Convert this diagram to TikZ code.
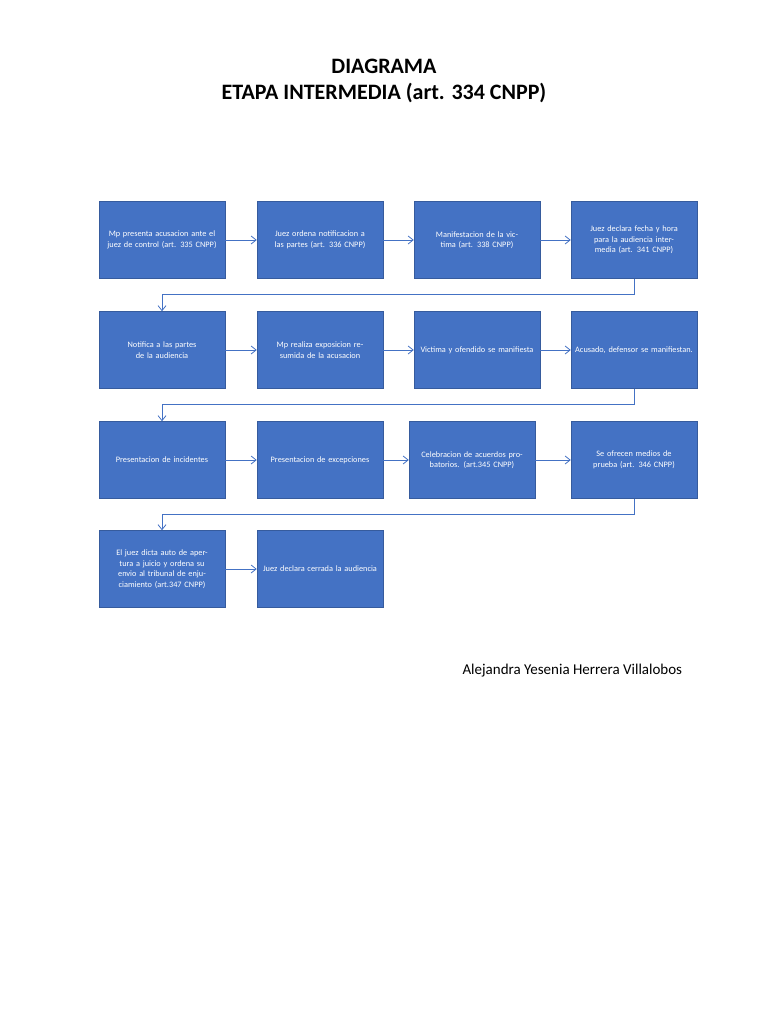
\documentclass[tikz,border=0pt]{standalone}
\usepackage{fontspec}
\setmainfont{Carlito}
\usetikzlibrary{arrows.meta}
\definecolor{bx}{HTML}{4472C4}
\begin{document}
\begin{tikzpicture}[x=1pt,y=-1pt,
  box/.style={fill=bx,draw=bx!80!black,line width=0.5pt,minimum width=126pt,minimum height=77pt,text width=120pt,align=center,text=white,font=\fontsize{8.3}{10.5}\selectfont,inner sep=2pt},
  conn/.style={draw=bx,line width=0.8pt,-{Straight Barb[length=5pt,width=8pt]}}]
\useasboundingbox (0,0) rectangle (768,1024);
\node[font=\fontsize{22}{26}\selectfont\bfseries,align=center] (title) at (384,81) {DIAGRAMA\\ETAPA INTERMEDIA (art. 334 CNPP)};
\node[font=\fontsize{15}{18}\selectfont,anchor=west] (author) at (459,671) {Alejandra Yesenia Herrera Villalobos};
\node[box] (a1) at (162,240) {Mp presenta acusacion ante el juez de control (art. 335 CNPP)};
\node[box] (a2) at (320,240) {Juez ordena notificacion a las partes (art. 336 CNPP)};
\node[box] (a3) at (477,240) {Manifestacion de la victima (art. 338 CNPP)};
\node[box] (a4) at (634,240) {Juez declara fecha y hora para la audiencia intermedia (art. 341 CNPP)};
\node[box] (b1) at (162,350) {Notifica a las partes de la audiencia};
\node[box] (b2) at (320,350) {Mp realiza exposicion resumida de la acusacion};
\node[box] (b3) at (477,350) {Victima y ofendido se manifiesta};
\node[box] (b4) at (634,350) {Acusado, defensor se manifiestan.};
\node[box] (c1) at (162,460) {Presentacion de incidentes};
\node[box] (c2) at (320,460) {Presentacion de excepciones};
\node[box] (c3) at (472,460) {Celebracion de acuerdos probatorios. (art.345 CNPP)};
\node[box] (c4) at (634,460) {Se ofrecen medios de prueba (art. 346 CNPP)};
\node[box] (d1) at (162,569) {El juez dicta auto de apertura a juicio y ordena su envio al tribunal de enjuciamiento (art.347 CNPP)};
\node[box] (d2) at (320,569) {Juez declara cerrada la audiencia};
\foreach \r in {a,b,c}{
  \draw[conn] (\r1) -- (\r2);
  \draw[conn] (\r2) -- (\r3);
  \draw[conn] (\r3) -- (\r4);
}
\draw[conn] (d1) -- (d2);
\draw[conn] (a4.south) -- ++(0,16) -| (b1.north);
\draw[conn] (b4.south) -- ++(0,16) -| (c1.north);
\draw[conn] (c4.south) -- ++(0,16) -| (d1.north);
\end{tikzpicture}
\end{document}
